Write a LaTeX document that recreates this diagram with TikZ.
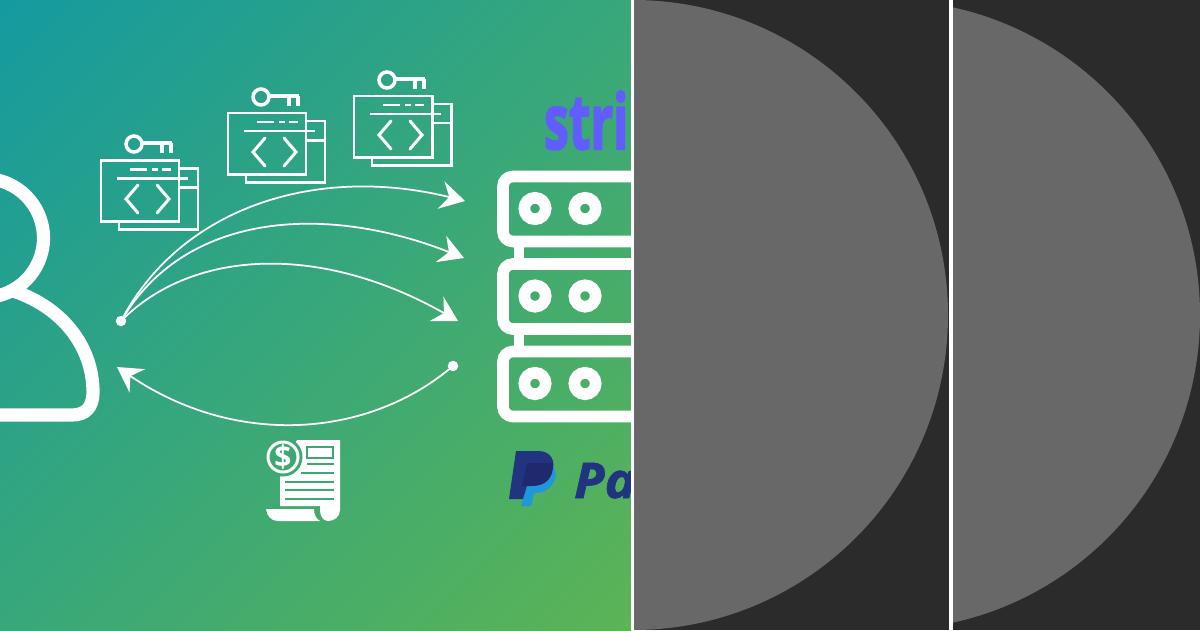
\documentclass[tikz,border=0pt]{standalone}
\usepackage{fontspec}
\setsansfont{Open Sans}
\newfontfamily\stripefont[UprightFont=* Bold,FakeBold=2.6]{Open Sans}
\newfontfamily\payfont[UprightFont=* Bold Italic,FakeBold=1.2]{Open Sans}
\usetikzlibrary{arrows.meta}
\definecolor{tealbg}{RGB}{20,154,160}
\definecolor{greenbg}{RGB}{92,180,84}
\definecolor{invgreen}{RGB}{62,168,112}
\definecolor{darkbg}{RGB}{43,43,43}
\definecolor{greydisc}{RGB}{104,104,104}
\definecolor{stripeblue}{RGB}{96,92,255}
\definecolor{paydark}{RGB}{32,52,128}
\definecolor{paymid}{RGB}{32,40,110}
\definecolor{paylight}{RGB}{32,150,220}
\pgfdeclareverticalshading{bgramp}{100bp}{color(0bp)=(greenbg); color(14bp)=(greenbg); color(86bp)=(tealbg); color(100bp)=(tealbg)}
\tikzset{
  icon/.style={draw=white,line width=0.85pt},
  bold icon/.style={draw=white,line width=3.75pt},
  srv/.style={draw=white,line width=3.3pt,rounded corners=2.8pt},
  hub/.style={circle,fill=white,draw=none,inner sep=0pt,outer sep=0pt,minimum size=3pt},
  flow/.style={draw=white,line width=0.5pt,-{Stealth[length=7pt,width=8pt,inset=2.4pt]}},
  nub/.style={circle,draw=white,line width=3.3pt,inner sep=0pt,outer sep=0pt,minimum size=6.1pt},
  invline/.style={draw=invgreen,line width=0.7pt}
}
% one api window with its key
\newcommand{\keywin}[2]{
  \begin{scope}[shift={(#1,#2)}]
  \draw[icon] (0,0) rectangle (78,61);
  \draw[icon] (78,8) -- (97,8) -- (97,69) -- (18,69) -- (18,61);
  \draw[icon] (78,27) -- (97,27);
  \draw[icon] (16,18) -- (87,18);
  \draw[icon] (29,9) -- (46,9) (51,9) -- (57,9) (61,9) -- (70,9);
  \draw[icon,line cap=round] (37,25) -- (25,39) -- (37,53);
  \draw[icon,line cap=round] (56,25) -- (68,39) -- (56,53);
  \draw[icon,line width=1pt] (33,-16) circle (8);
  \draw[icon,line width=1pt] (41,-17) -- (71,-17);
  \draw[icon,line width=1.1pt] (61,-17) -- (61,-7) (70,-17) -- (70,-7);
  \end{scope}
}
\begin{document}
\begin{tikzpicture}[x=0.01cm,y=-0.01cm]
\useasboundingbox (0,0) rectangle (1200,630);
\shade[shading=bgramp,shading angle=45] (0,0) rectangle (631,630);
\begin{scope}
\clip (0,0) rectangle (631,630);
% person
\draw[bold icon] (-16,238) circle (59.5);
\draw[bold icon] (10,290) .. controls (60,305) and (93,345) .. (93,392)
  .. controls (93,408) and (85,415) .. (72,415) -- (-5,415);
% servers
\foreach \ytop in {176.5,264,351.5} {
  \draw[srv] (660,\ytop) -- (503,\ytop) -- (503,\ytop+65) -- (660,\ytop+65);
  \node[nub] (a\ytop) at (535,\ytop+32) {};
  \node[nub] (b\ytop) at (585,\ytop+32) {};
}
\fill[white] (514,243) rectangle (524,262);
\fill[white] (514,330) rectangle (524,349);
\node[anchor=base west,font=\stripefont,text=stripeblue,inner sep=0pt,xscale=1.42,yscale=2.17] (stripe) at (543,149) {stri};
\node[anchor=base west,font=\payfont,text=paydark,inner sep=0pt,xscale=1.5,yscale=1.4] (paypal) at (573,498) {Pa};
\end{scope}
\keywin{101}{160}
\keywin{228}{113}
\keywin{354}{96}
% paypal mark
\fill[paydark] (516,451) -- (538,451) .. controls (552,451) and (556,462) .. (552,473)
  .. controls (548,484) and (540,486) .. (530,486) -- (526,499) -- (509,499) -- cycle;
\fill[paylight] (552,465) .. controls (558,472) and (556,480) .. (551,486)
  .. controls (546,492) and (540,493) .. (534,493) -- (531,506) -- (521,506) -- (527,486) -- (530,486)
  .. controls (540,486) and (548,484) .. (552,473) -- cycle;
\fill[paymid] (527,463) -- (553,463) .. controls (553,468) and (553,470) .. (552,473)
  .. controls (548,484) and (540,486) .. (530,486) -- (522,486) -- cycle;
% invoice
\fill[white] (297,440) -- (340,440) -- (340,510) .. controls (340,517) and (334,521) .. (328,521)
  .. controls (323,521) and (320,516) .. (320,510) -- (320,506) -- (280,506) -- (280,470) -- cycle;
\fill[white] (266,509) -- (314,509) .. controls (314,514) and (316,519) .. (320,521) -- (278,521)
  .. controls (271,521) and (267,516) .. (266,509) -- cycle;
\fill[invgreen] (283,457) circle (19.5);
\draw[draw=white,line width=0.85pt] (283,457) circle (15);
\node[font=\sffamily\bfseries,text=white,inner sep=0pt,scale=0.85] (dollar) at (283,457) {\$};
\draw[invline] (307,447) rectangle (333,458);
\draw[invline] (307,464) -- (334,464) (301,473) -- (334,473) (285,482) -- (334,482) (285,490) -- (334,490) (285,499) -- (334,499);
% flows
\node[hub] (src) at (121,321) {};
\node[hub] (ret) at (453,366) {};
\coordinate (t1) at (465,201);
\coordinate (t2) at (464,258);
\coordinate (t3) at (458,321);
\coordinate (t4) at (117,367);
\draw[flow] (src) .. controls (185,205) and (320,165) .. (t1);
\draw[flow] (src) .. controls (190,210) and (330,205) .. (t2);
\draw[flow] (src) .. controls (195,250) and (320,243) .. (t3);
\draw[flow] (ret) .. controls (365,438) and (235,447) .. (t4);
% right panels
\fill[darkbg] (631,0) rectangle (1200,630);
\begin{scope}
\clip (634,0) rectangle (949,630);
\fill[greydisc] (633,315) circle (315);
\end{scope}
\begin{scope}
\clip (953,0) rectangle (1200,630);
\fill[greydisc] (885,315) circle (315);
\end{scope}
\fill[white] (630.5,0) rectangle (634,630);
\fill[white] (949,0) rectangle (953,630);
\end{tikzpicture}
\end{document}
